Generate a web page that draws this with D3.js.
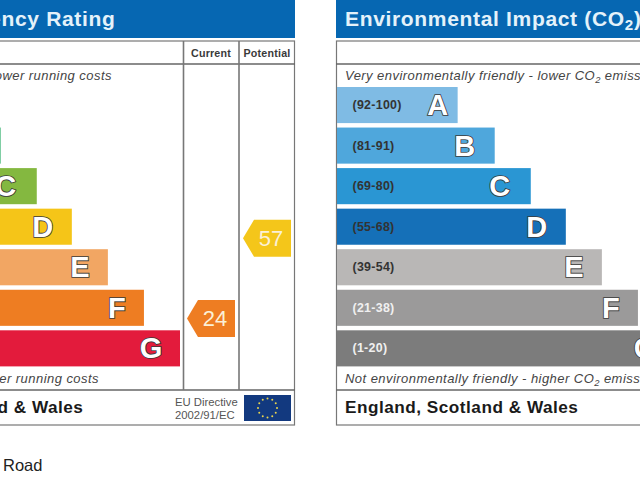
<!DOCTYPE html>
<html>
<head>
<meta charset="utf-8">
<style>
html,body{margin:0;padding:0;background:#fff;overflow:hidden}
svg{display:block;font-family:"Liberation Sans",Arial,sans-serif}
</style>
<script src="https://cdnjs.cloudflare.com/ajax/libs/d3/7.8.5/d3.min.js"></script>
</head>
<body>
<svg id="chart" width="640" height="480"></svg>
<script>
// EPC band definitions shared by both rating panels
const bands = ["A","B","C","D","E","F","G"];
const bandRanges = ["(92-100)","(81-91)","(69-80)","(55-68)","(39-54)","(21-38)","(1-20)"];
const bandLower = [92,81,69,55,39,21,1];
const bandUpper = [100,91,80,68,54,38,20];
const barLengths = [35.8,46.8,57.5,67.9,78.6,89.3,100];
const letterInset = [20,30,31,29,28,27,29];
const energyColors = ["#0a8f56","#4dbb80","#84b840","#f5c518","#f2a663","#ee7d22","#e31b3c"];
const co2Colors = ["#7fbbe4","#4fa7dc","#2a96d3","#1570b8","#b9b7b6","#9b9a9a","#7c7c7c"];
const rangeTextColors = ["#333","#333","#333","#333","#333","#f0f0f0","#f0f0f0"];
const energyScores = [{label:"Current",value:24,color:"#ee7d22"},{label:"Potential",value:57,color:"#f4c61a"}];
const lineColor = "#777";

const svg = d3.select("#chart");
const y = d3.scaleBand().domain(bands).range([87,366.4]).paddingInner(0.11);
const len = d3.scaleLinear().domain([0,100]).range([0,337]);

// Vertical position of a score inside its band
function scoreY(v){
  const i = bandLower.findIndex((lo,k)=>v>=lo && v<=bandUpper[k]);
  const frac = (bandUpper[i]-v)/(bandUpper[i]-bandLower[i]);
  return y(bands[i]) + frac*y.bandwidth() - 1;
}

function co2Text(sel, before, after){
  sel.append("tspan").text(before);
  sel.append("tspan").attr("font-size","0.72em").attr("dy","0.28em").text("2");
  sel.append("tspan").attr("dy","-0.2em").text(after);
}

function panel(x0, opts){
  const g = svg.append("g").attr("transform",`translate(${x0},0)`);
  const W = 451;
  // title strip
  g.append("rect").attr("x",0).attr("y",-5).attr("width",W).attr("height",43).attr("fill","#0667b2");
  const title = g.append("text").attr("x",9+opts.titleShift).attr("y",26).attr("fill","#e4f2fa")
    .attr("font-size",21).attr("font-weight","bold").attr("letter-spacing",0.67);
  opts.title(title);

  // frame and rules
  g.append("rect").attr("x",0.5).attr("y",41).attr("width",W-1).attr("height",384)
    .attr("fill","#fff").attr("stroke",lineColor).attr("stroke-width",1.2);
  g.append("line").attr("x1",0).attr("x2",W).attr("y1",64).attr("y2",64).attr("stroke","#666").attr("stroke-width",1.4);
  g.append("line").attr("x1",0).attr("x2",W).attr("y1",390).attr("y2",390).attr("stroke","#666").attr("stroke-width",1.4);
  [339.5,395].forEach(cx=>{
    g.append("line").attr("x1",cx).attr("x2",cx).attr("y1",41).attr("y2",390).attr("stroke",lineColor).attr("stroke-width",1.6);
  });
  g.selectAll("text.col").data(["Current","Potential"]).join("text").attr("class","col")
    .attr("x",(d,i)=>i?423:367).attr("y",57).attr("text-anchor","middle")
    .attr("font-size",10.7).attr("font-weight","bold").attr("letter-spacing",0.2).attr("fill","#3a3a3a").text(d=>d);

  // captions above and below the bars
  const top = g.append("text").attr("x",9+opts.topShift).attr("y",80).attr("font-size",13).attr("letter-spacing",0.45)
    .attr("font-style","italic").attr("fill","#444");
  opts.top(top);
  const bottom = g.append("text").attr("x",9+opts.bottomShift).attr("y",383).attr("font-size",13).attr("letter-spacing",0.45)
    .attr("font-style","italic").attr("fill","#444");
  opts.bottom(bottom);

  // bars
  const rows = g.selectAll("g.band").data(bands).join("g").attr("class","band")
    .attr("transform",d=>`translate(${1+opts.barShift},${y(d)})`);
  rows.append("rect").attr("width",(d,i)=>len(barLengths[i])).attr("height",y.bandwidth())
    .attr("fill",(d,i)=>opts.colors[i]);
  rows.append("text").attr("x",15.5).attr("y",y.bandwidth()/2+4).attr("font-size",12.4).attr("font-weight","bold")
    .attr("letter-spacing",0.3).attr("fill",(d,i)=>rangeTextColors[i]).text((d,i)=>bandRanges[i]);
  rows.append("text").attr("x",(d,i)=>len(barLengths[i])-letterInset[i]).attr("y",y.bandwidth()/2+10)
    .attr("text-anchor","middle").attr("font-size",29).attr("font-weight","bold")
    .attr("fill","#fff").attr("stroke","#3a3a3a").attr("stroke-width",1.7).attr("paint-order","stroke").text(d=>d);

  // footer
  g.append("text").attr("x",9+opts.footShift).attr("y",413).attr("font-size",17.2).attr("letter-spacing",0.5)
    .attr("font-weight","bold").attr("fill","#1a1a1a").text("England, Scotland & Wales");
  return g;
}

// Energy panel runs past the left edge of the page
const energy = panel(-156,{
  colors:energyColors, barShift:-2, titleShift:-1, topShift:-2, bottomShift:-14, footShift:-3,
  title:t=>t.text("Energy Efficiency Rating"),
  top:t=>t.text("Very energy efficient - lower running costs"),
  bottom:t=>t.text("Not energy efficient - higher running costs")
});

// Score pointers in the Current and Potential columns
const colRight = {Current:391,Potential:447};
const ptr = energy.selectAll("g.score").data(energyScores).join("g").attr("class","score")
  .attr("transform",d=>`translate(${colRight[d.label]},${scoreY(d.value)})`);
ptr.append("path").attr("d",d3.line()([[0,-18.5],[-37,-18.5],[-48,0],[-37,18.5],[0,18.5]])+"Z").attr("fill",d=>d.color);
ptr.append("text").attr("x",-20).attr("y",8).attr("text-anchor","middle").attr("font-size",22)
  .attr("fill","#fbf0d6").text(d=>d.value);

// Directive note and flag
const directive = ["EU Directive","2002/91/EC"];
energy.selectAll("text.dir").data(directive).join("text").attr("class","dir")
  .attr("x",331).attr("y",(d,i)=>406+i*13).attr("font-size",11.3).attr("fill","#555").text(d=>d);
const flag = energy.append("g").attr("transform","translate(400,395)");
flag.append("rect").attr("width",47).attr("height",26).attr("fill","#12397f");
const stars = d3.range(12);
flag.selectAll("circle").data(stars).join("circle")
  .attr("cx",d=>23.5+9.5*Math.cos(d*Math.PI/6)).attr("cy",d=>13+9.5*Math.sin(d*Math.PI/6))
  .attr("r",1).attr("fill","#e8d44d");

// CO2 panel runs past the right edge of the page
panel(336,{
  colors:co2Colors, barShift:0, titleShift:0, topShift:0, bottomShift:0, footShift:0,
  title:t=>co2Text(t,"Environmental Impact (CO",")"),
  top:t=>co2Text(t,"Very environmentally friendly - lower CO"," emissions"),
  bottom:t=>co2Text(t,"Not environmentally friendly - higher CO"," emissions")
});

// Address fragment below the panels
svg.append("text").attr("x",3).attr("y",471).attr("font-size",16.5).attr("fill","#222").text("Road");
</script>
</body>
</html>
